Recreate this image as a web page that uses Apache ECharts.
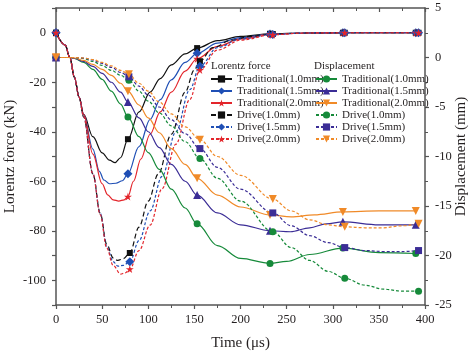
<!DOCTYPE html>
<html>
<head>
<meta charset="utf-8">
<script src="https://cdn.jsdelivr.net/npm/echarts@6/dist/echarts.min.js"></script>
<style>
  html, body { margin: 0; padding: 0; background: #fff; }
  #chart { width: 474px; height: 353px; }
</style>
</head>
<body>
<div id="chart"></div>
<script>
// time (μs) , Lorentz force (kN)
const tradForce10 = [[0,0],[10,-5],[15,-10],[20,-18],[25,-26],[30,-33],[40,-42],[50,-48.5],[58,-51.5],[64,-52.5],[70,-50.5],[78,-43],[90,-32],[102,-24],[113,-18.5],[125,-13],[140,-8.5],[153,-6.2],[175,-3.2],[200,-1.5],[232,-0.4],[270,-0.1],[311,0],[350,0],[390,0]];
const tradForce15 = [[0,0],[10,-5],[15,-10],[20,-18],[25,-26],[30,-33],[40,-47],[47,-56],[52,-59.5],[58,-61],[65,-60.8],[72,-59.8],[78,-57],[90,-46],[102,-35],[113,-27],[125,-19],[140,-12],[153,-8.3],[175,-4.2],[200,-2],[232,-0.5],[270,-0.1],[311,0],[350,0],[390,0]];
const tradForce20 = [[0,0],[10,-5],[15,-10],[20,-18],[25,-26],[30,-33],[40,-49],[50,-61],[56,-65.5],[62,-67.5],[68,-68],[74,-67.5],[78,-66.2],[84,-60],[92,-51],[102,-41],[113,-32],[125,-24],[140,-15.5],[153,-10.5],[175,-5.5],[200,-2.5],[232,-0.6],[270,-0.1],[311,0],[350,0],[390,0]];
const driveForce10 = [[0,0],[10,-5],[15,-10],[20,-18],[25,-26],[30,-34],[40,-57],[48,-73],[55,-85.5],[62,-91],[67,-92],[73,-91.3],[80,-89],[90,-78.5],[100,-68],[111,-57],[125,-41],[140,-24],[150,-15],[156,-11.5],[170,-6],[190,-3],[210,-1.5],[235,-0.5],[270,-0.1],[313,0],[350,0],[393,0]];
const driveForce15 = [[0,0],[10,-5],[15,-10],[20,-18],[25,-26],[30,-34],[40,-57],[48,-73],[55,-86.5],[62,-92.5],[67,-94.3],[73,-94],[80,-92.5],[90,-84],[102,-72],[115,-58],[130,-40],[145,-23],[156,-13.5],[175,-6],[200,-2.5],[235,-0.7],[270,-0.1],[313,0],[350,0],[393,0]];
const driveForce20 = [[0,0],[10,-5],[15,-10],[20,-18],[25,-26],[30,-34],[40,-57],[48,-73.5],[55,-87],[62,-94],[70,-97.5],[75,-97],[80,-95.5],[90,-88],[102,-77.7],[115,-63],[130,-45],[145,-27],[156,-15],[175,-7],[200,-3],[235,-0.8],[270,-0.1],[313,0],[350,0],[393,0]];

// time (μs) , displacement (mm)
const tradDisp10 = [[0,0],[15,0],[20,-0.1],[30,-0.5],[40,-1.2],[50,-2.2],[60,-3.4],[70,-4.7],[78,-6],[90,-8],[100,-9.6],[112,-11.3],[125,-13.3],[140,-15.2],[153,-16.8],[175,-19],[200,-20.3],[232,-20.8],[250,-20.6],[275,-19.9],[311,-19.25],[350,-19.7],[390,-19.8]];
const tradDisp15 = [[0,0],[15,0],[20,-0.1],[30,-0.4],[40,-0.9],[50,-1.6],[60,-2.5],[70,-3.5],[78,-4.5],[90,-6.1],[100,-7.5],[112,-9.1],[125,-10.8],[140,-12.5],[153,-13.9],[175,-15.7],[200,-16.9],[232,-17.5],[254,-17.6],[275,-17.2],[293,-16.8],[311,-16.6],[350,-16.9],[390,-16.9]];
const tradDisp20 = [[0,0],[15,0],[20,-0.05],[30,-0.3],[40,-0.7],[50,-1.2],[60,-1.8],[70,-2.6],[78,-3.4],[90,-4.8],[100,-6.1],[112,-7.6],[125,-9.2],[140,-10.8],[153,-12.2],[175,-13.9],[200,-15.1],[232,-15.9],[255,-16.1],[280,-15.9],[311,-15.6],[350,-15.5],[390,-15.5]];
const driveDisp10 = [[0,0],[20,0],[30,-0.1],[40,-0.4],[50,-0.8],[60,-1.3],[70,-1.8],[79,-2.3],[90,-3.4],[100,-4.4],[112,-5.6],[125,-6.9],[140,-8.5],[156,-10.2],[175,-12.2],[200,-14.5],[235,-17.6],[255,-19.2],[275,-20.5],[295,-21.6],[313,-22.3],[335,-23],[355,-23.4],[375,-23.6],[393,-23.6]];
const driveDisp15 = [[0,0],[20,0],[30,-0.05],[40,-0.25],[50,-0.6],[60,-1],[70,-1.5],[79,-1.95],[90,-2.9],[100,-3.8],[112,-5],[125,-6.3],[140,-7.7],[156,-9.2],[175,-11.1],[200,-13.3],[235,-15.7],[255,-17],[275,-18],[295,-18.7],[313,-19.2],[335,-19.5],[355,-19.6],[375,-19.6],[393,-19.5]];
const driveDisp20 = [[0,0],[20,0],[30,-0.05],[40,-0.2],[50,-0.5],[60,-0.85],[70,-1.3],[79,-1.7],[90,-2.6],[100,-3.4],[112,-4.5],[125,-5.7],[140,-7],[156,-8.3],[175,-10],[200,-11.9],[235,-14.3],[255,-15.5],[275,-16.4],[295,-16.9],[313,-17.1],[335,-17.2],[355,-17.2],[375,-17],[393,-16.8]];

// where the markers sit (μs)
const forceTradMarks = [0, 78, 153, 232, 311, 390];
const forceDriveMarks = [0, 80, 156, 235, 313, 393];
const dispTradMarks = [0, 78, 153, 232, 311, 390];
const dispDriveMarks = [0, 79, 156, 235, 313, 393];

const legendNames = ['Traditional(1.0mm)', 'Traditional(1.5mm)', 'Traditional(2.0mm)', 'Drive(1.0mm)', 'Drive(1.5mm)', 'Drive(2.0mm)'];

const STAR = 'path://M50,0 L61,35 L98,35 L68,57 L79,91 L50,70 L21,91 L32,57 L2,35 L39,35 Z';
const FONT = '"Liberation Serif", "Times New Roman", serif';
const TXT = '#231f20';
const AXIS = '#555555';

function withMarks(points, marks) {
  return points.map(p => marks.indexOf(p[0]) >= 0 ? p : { value: p, symbol: 'none' });
}

function mkSeries(name, yIdx, points, marks, color, symbol, size, dash, rotate) {
  return {
    name: name,
    type: 'line',
    yAxisIndex: yIdx,
    data: withMarks(points, marks),
    smooth: 0.35,
    smoothMonotone: 'x',
    showSymbol: true,
    showAllSymbol: true,
    symbol: symbol,
    symbolSize: size,
    symbolRotate: rotate || 0,
    lineStyle: { color: color, width: 1.2, type: dash || 'solid' },
    itemStyle: { color: color },
    emphasis: { disabled: true },
    animation: false
  };
}

const black = '#111111', blue = '#1f4fb5', red = '#e3252b';
const green = '#168a3a', purple = '#3b2d96', orange = '#f08a28';

var chart = echarts.init(document.getElementById('chart'));
const option = {
  backgroundColor: '#fff',
  animation: false,
  grid: { left: 56, right: 49, top: 8, bottom: 48, containLabel: false, outerBoundsMode: 'none' },
  xAxis: [
    {
      type: 'value', min: 0, max: 400, interval: 50,
      name: 'Time (μs)', nameLocation: 'middle', nameGap: 31, nameMoveOverlap: false,
      nameTextStyle: { fontFamily: FONT, fontSize: 15, color: TXT },
      axisLine: { onZero: false, lineStyle: { color: AXIS, width: 1.5 } },
      axisTick: { show: true, length: 4, lineStyle: { color: AXIS, width: 1.2 } },
      minorTick: { show: true, splitNumber: 2, length: 3, lineStyle: { color: AXIS, width: 1 } },
      axisLabel: { fontFamily: FONT, fontSize: 12.5, color: TXT, margin: 8 },
      splitLine: { show: false }
    },
    {
      type: 'value', min: 0, max: 400, interval: 50, position: 'top',
      axisLine: { onZero: false, lineStyle: { color: AXIS, width: 1.5 } },
      axisTick: { show: true, inside: true, length: 4, lineStyle: { color: AXIS, width: 1.2 } },
      minorTick: { show: true, splitNumber: 2, length: 3, lineStyle: { color: AXIS, width: 1 } },
      axisLabel: { show: false },
      splitLine: { show: false }
    }
  ],
  yAxis: [
    {
      type: 'value', min: -110, max: 10, interval: 10,
      name: 'Lorentz force (kN)', nameLocation: 'middle', nameGap: 38, nameMoveOverlap: false,
      nameTextStyle: { fontFamily: FONT, fontSize: 15, color: TXT },
      axisLine: { show: true, onZero: false, lineStyle: { color: AXIS, width: 1.5 } },
      axisTick: { show: true, length: 4, lineStyle: { color: AXIS, width: 1.2 } },
      axisLabel: {
        fontFamily: FONT, fontSize: 12.5, color: TXT, margin: 10,
        formatter: v => (v % 20 === 0 ? String(v) : '')
      },
      splitLine: { show: false }
    },
    {
      type: 'value', min: -25, max: 5, interval: 5, position: 'right',
      name: 'Displacement (mm)', nameLocation: 'middle', nameGap: 29, nameMoveOverlap: false,
      nameTextStyle: { fontFamily: FONT, fontSize: 15, color: TXT },
      axisLine: { show: true, onZero: false, lineStyle: { color: AXIS, width: 1.5 } },
      axisTick: { show: true, length: 4, lineStyle: { color: AXIS, width: 1.2 } },
      minorTick: { show: true, splitNumber: 2, length: 3, lineStyle: { color: AXIS, width: 1 } },
      axisLabel: { fontFamily: FONT, fontSize: 12.5, color: TXT, margin: 10 },
      splitLine: { show: false }
    }
  ],
  legend: [
    {
      orient: 'vertical', left: 210, top: 73, padding: 0, itemGap: 0,
      itemWidth: 21, itemHeight: 9,
      selectedMode: false,
      data: legendNames,
      textStyle: { fontFamily: FONT, fontSize: 11, color: TXT, lineHeight: 12 }
    },
    {
      orient: 'vertical', left: 315, top: 73, padding: 0, itemGap: 0,
      itemWidth: 21, itemHeight: 9,
      selectedMode: false,
      data: legendNames.map(n => n + '#d'),
      formatter: n => n.split('#')[0],
      textStyle: { fontFamily: FONT, fontSize: 11, color: TXT, lineHeight: 12 }
    }
  ],
  graphic: [
    { type: 'text', left: 211, top: 61, style: { text: 'Lorentz force', fontSize: 11, fontFamily: FONT, fill: TXT } },
    { type: 'text', left: 314, top: 61, style: { text: 'Displacement', fontSize: 11, fontFamily: FONT, fill: TXT } }
  ],
  series: [
    mkSeries('Traditional(1.0mm)', 0, tradForce10, forceTradMarks, black, 'rect', 6),
    mkSeries('Traditional(1.5mm)', 0, tradForce15, forceTradMarks, blue, 'diamond', 9),
    mkSeries('Traditional(2.0mm)', 0, tradForce20, forceTradMarks, red, STAR, 8),
    mkSeries('Drive(1.0mm)', 0, driveForce10, forceDriveMarks, black, 'rect', 6, [5, 3]),
    mkSeries('Drive(1.5mm)', 0, driveForce15, forceDriveMarks, blue, 'diamond', 9, [3, 2]),
    mkSeries('Drive(2.0mm)', 0, driveForce20, forceDriveMarks, red, STAR, 8, [3, 2]),
    mkSeries('Traditional(1.0mm)#d', 1, tradDisp10, dispTradMarks, green, 'circle', 7),
    mkSeries('Traditional(1.5mm)#d', 1, tradDisp15, dispTradMarks, purple, 'triangle', 8),
    mkSeries('Traditional(2.0mm)#d', 1, tradDisp20, dispTradMarks, orange, 'triangle', 8, 'solid', 180),
    mkSeries('Drive(1.0mm)#d', 1, driveDisp10, dispDriveMarks, green, 'circle', 7, [3, 2]),
    mkSeries('Drive(1.5mm)#d', 1, driveDisp15, dispDriveMarks, purple, 'rect', 7, [3, 2]),
    mkSeries('Drive(2.0mm)#d', 1, driveDisp20, dispDriveMarks, orange, 'triangle', 8, [3, 2], 180)
  ]
};
chart.setOption(option);
</script>
</body>
</html>
